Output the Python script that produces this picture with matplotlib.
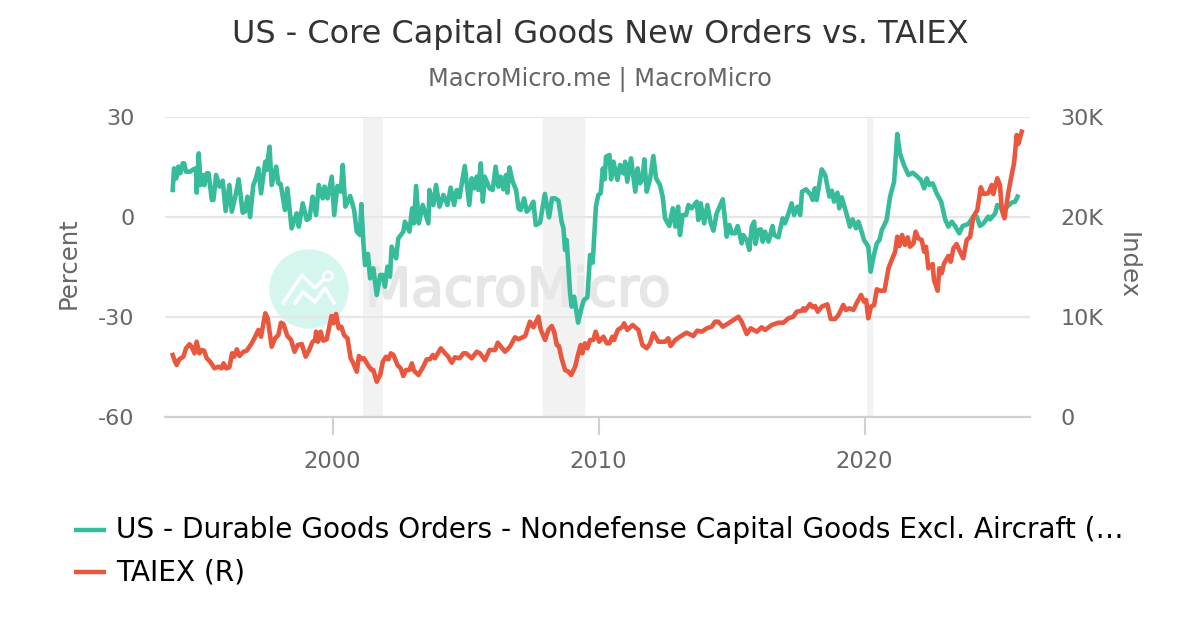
import matplotlib
matplotlib.use("Agg")
import matplotlib.pyplot as plt
import matplotlib.patheffects as pe
from matplotlib.lines import Line2D
from matplotlib.patches import Ellipse

# US durable goods orders, yoy percent (left axis)
orders_year = [
    1993.99, 1994.04, 1994.12, 1994.20, 1994.27, 1994.37, 1994.42, 1994.49, 1994.64, 1994.77, 1994.87, 1994.89,
    1994.97, 1995.04, 1995.12, 1995.18, 1995.27, 1995.34, 1995.46, 1995.52, 1995.62, 1995.75, 1995.87, 1995.98,
    1996.12, 1996.21, 1996.37, 1996.47, 1996.62, 1996.70, 1996.80, 1996.90, 1997.02, 1997.12, 1997.21, 1997.31,
    1997.47, 1997.52, 1997.63, 1997.71, 1997.88, 1997.96, 1998.05, 1998.21, 1998.30, 1998.46, 1998.65, 1998.73,
    1998.88, 1999.03, 1999.13, 1999.25, 1999.38, 1999.48, 1999.63, 1999.70, 1999.81, 1999.97, 2000.06, 2000.18,
    2000.31, 2000.38, 2000.48, 2000.66, 2000.81, 2000.91, 2001.03, 2001.08, 2001.16, 2001.22, 2001.33, 2001.41,
    2001.53, 2001.66, 2001.79, 2001.89, 2001.97, 2002.06, 2002.16, 2002.22, 2002.39, 2002.47, 2002.66, 2002.72,
    2002.89, 2002.99, 2003.06, 2003.14, 2003.24, 2003.39, 2003.60, 2003.64, 2003.79, 2003.89, 2004.02, 2004.17,
    2004.32, 2004.44, 2004.57, 2004.67, 2004.77,
    2004.97, 2005.14, 2005.23, 2005.32, 2005.42, 2005.48, 2005.57, 2005.65, 2005.72, 2005.90, 2006.02, 2006.13,
    2006.23, 2006.32, 2006.42, 2006.52, 2006.57, 2006.65, 2006.77, 2006.90, 2006.99, 2007.07, 2007.20, 2007.30,
    2007.42, 2007.55, 2007.64, 2007.80, 2007.98, 2008.14, 2008.25, 2008.36, 2008.49, 2008.61, 2008.68, 2008.74,
    2008.80, 2008.93, 2008.99, 2009.08, 2009.23, 2009.37, 2009.45, 2009.58, 2009.68, 2009.78, 2009.90, 2009.99,
    2010.08, 2010.16, 2010.23, 2010.28, 2010.41, 2010.47, 2010.56, 2010.71, 2010.81, 2010.93, 2011.00, 2011.08,
    2011.22, 2011.38, 2011.47, 2011.56, 2011.66, 2011.72, 2011.81, 2011.94, 2012.06, 2012.16, 2012.31, 2012.41,
    2012.50, 2012.66, 2012.79, 2012.89, 2012.99, 2013.06, 2013.16, 2013.29, 2013.38, 2013.50, 2013.69, 2013.75,
    2013.84, 2013.97, 2014.09, 2014.22, 2014.32, 2014.44, 2014.67, 2014.82, 2014.92, 2015.01, 2015.13, 2015.23,
    2015.38, 2015.44, 2015.57, 2015.67,
    2015.76, 2015.85, 2015.90, 2016.01, 2016.10, 2016.17, 2016.26, 2016.39, 2016.54, 2016.60, 2016.76, 2016.92,
    2017.01, 2017.14, 2017.26, 2017.35, 2017.48, 2017.58, 2017.65, 2017.80, 2017.98, 2018.05, 2018.13, 2018.20,
    2018.39, 2018.52, 2018.68, 2018.77, 2018.85, 2018.98, 2019.05, 2019.14, 2019.30, 2019.45, 2019.55, 2019.68,
    2019.77, 2019.89, 2019.98, 2020.14, 2020.23, 2020.31, 2020.46, 2020.56, 2020.65, 2020.83, 2020.96, 2021.11,
    2021.23, 2021.33, 2021.48, 2021.65, 2021.81, 2021.96, 2022.12, 2022.24, 2022.34, 2022.44, 2022.56, 2022.71,
    2022.88, 2023.03, 2023.15, 2023.28, 2023.40, 2023.56, 2023.69, 2023.90, 2024.09, 2024.22, 2024.34, 2024.47,
    2024.65, 2024.72, 2024.91, 2024.99, 2025.16, 2025.34, 2025.53, 2025.66, 2025.75,
]
orders_pct = [
    8.1, 14.6, 11.6, 15.1, 13.1, 16.1, 16.1, 13.6, 13.6, 14.3, 14.6, 7.3,
    19.1, 9.6, 12.6, 9.6, 13.1, 13.1, 5.1, 5.1, 12.6, 9.1, 10.9, 1.8,
    9.6, 1.6, 7.1, 11.3, 1.3, 1.6, 6.1, 0.0, 9.6, 11.6, 14.6, 7.1,
    16.6, 14.1, 21.1, 9.6, 15.1, 10.1, 9.9, 2.1, 8.6, -3.4, 1.1, -2.9,
    4.1, -0.9, -0.4, 6.1, 0.6, 9.6, 5.6, 9.1, 5.6, 12.1, 0.6, 9.3,
    7.6, 15.6, 3.1, 6.3, 2.1, -4.4, -5.4, 3.9, -7.9, -14.4, -11.1, -18.4,
    -15.4, -23.4, -17.4, -17.4, -20.9, -14.9, -17.9, -8.9, -12.4, -6.4, -4.4, -1.4,
    -4.4, 2.6, -1.9, 9.3, -1.9, 3.6, -1.9, 8.1, 3.6, 9.6, 3.1, 6.6,
    3.6, 8.8, 3.6, 8.1, 5.9,
    15.3, 3.6, 11.6, 8.6, 12.1, 8.1, 16.1, 4.6, 12.1, 8.6, 8.1, 15.1,
    9.1, 12.1, 8.3, 12.6, 7.3, 14.9, 10.6, 8.1, 2.6, 2.1, 5.6, 1.6,
    2.6, 4.6, -2.4, -1.7, 6.9, -0.1, 5.6, 5.6, 4.9, -1.4, -3.4, -9.9,
    -6.9, -22.9, -26.9, -23.9, -31.7, -26.9, -24.9, -24.1, -11.4, -13.7, 3.1, 6.6,
    7.1, 14.6, 11.3, 18.1, 18.6, 11.3, 16.6, 11.1, 15.6, 13.1, 16.6, 10.6,
    17.6, 7.6, 14.6, 10.1, 11.6, 17.3, 7.6, 11.6, 18.3, 11.6, 9.6, 6.1,
    -0.4, -2.7, 2.6, -2.9, 3.1, -5.4, 0.6, 0.6, 3.6, 2.6, 4.6, -0.9,
    4.1, -1.9, 3.6, -1.9, -4.1, 1.1, 5.3, -5.9, -2.4, -4.9, -4.9, -2.7,
    -7.9, -5.4, -6.9, -9.9,
    -2.9, -1.4, -8.1, -3.9, -3.7, -7.4, -4.4, -7.4, -2.7, -5.4, -6.1, -0.4,
    -1.9, 1.1, 4.1, 0.6, 3.1, 0.6, 7.6, 8.3, 6.6, 5.1, 8.6, 5.1,
    14.3, 12.6, 6.1, 7.9, 4.6, 7.3, 2.6, 5.9, 1.6, -2.9, -0.7, -3.4,
    -1.4, -4.4, -6.9, -8.9, -16.4, -12.9, -7.9, -6.9, -3.9, -0.9, 6.1, 10.6,
    24.9, 19.1, 15.6, 12.6, 13.3, 12.3, 11.1, 8.6, 11.6, 9.6, 10.1, 7.1,
    4.6, -0.7, -2.9, -1.4, -2.7, -4.9, -2.7, -2.1, 0.1, 0.1, -2.7, -1.9,
    0.1, -0.7, 1.1, 3.6, 2.6, 2.9, 4.3, 4.6, 6.1,
]

# TAIEX index level (right axis)
taiex_year = [
    1993.99, 1994.08, 1994.14, 1994.24, 1994.39, 1994.49, 1994.62, 1994.70, 1994.81, 1994.89, 1994.99, 1995.08,
    1995.17, 1995.27, 1995.40, 1995.56, 1995.71, 1995.83, 1995.90, 1996.00, 1996.12, 1996.22, 1996.30, 1996.40,
    1996.50, 1996.65, 1996.77, 1996.96, 1997.09, 1997.21, 1997.31, 1997.47, 1997.56, 1997.71, 1997.84, 1997.96,
    1998.06, 1998.15, 1998.30, 1998.44, 1998.57, 1998.69, 1998.84, 1998.99, 1999.12, 1999.25, 1999.34, 1999.38,
    1999.45, 1999.55, 1999.65, 1999.78, 1999.96, 2000.03, 2000.13, 2000.23, 2000.33, 2000.43, 2000.56, 2000.68,
    2000.78, 2000.91, 2000.99, 2001.10, 2001.18, 2001.35, 2001.47, 2001.53, 2001.66, 2001.79, 2001.89, 2002.01,
    2002.10, 2002.19, 2002.29, 2002.44, 2002.56, 2002.66, 2002.76, 2002.89, 2002.98, 2003.06, 2003.23, 2003.41,
    2003.54, 2003.66, 2003.77, 2003.85, 2004.07, 2004.23, 2004.35, 2004.48, 2004.60, 2004.77,
    2004.92, 2005.02, 2005.23, 2005.42, 2005.54, 2005.73, 2005.90, 2006.11, 2006.21, 2006.48, 2006.67, 2006.86,
    2006.99, 2007.24, 2007.42, 2007.55, 2007.74, 2007.83, 2007.99, 2008.11, 2008.24, 2008.33, 2008.43, 2008.51,
    2008.61, 2008.74, 2008.87, 2008.97, 2009.12, 2009.24, 2009.33, 2009.39, 2009.49, 2009.58, 2009.68, 2009.80,
    2009.89, 2010.02, 2010.18, 2010.31, 2010.41, 2010.52, 2010.58, 2010.72, 2010.90, 2010.96, 2011.08, 2011.28,
    2011.50, 2011.65, 2011.81, 2011.94, 2012.06, 2012.25, 2012.50, 2012.62, 2012.71, 2012.88, 2013.06, 2013.31,
    2013.56, 2013.71, 2013.88, 2014.07, 2014.25, 2014.38, 2014.50, 2014.67, 2014.88, 2015.07, 2015.26, 2015.38,
    2015.57, 2015.72,
    2015.95, 2016.13, 2016.26, 2016.51, 2016.76, 2016.95, 2017.14, 2017.32, 2017.45, 2017.64, 2017.70, 2017.76,
    2017.95, 2018.05, 2018.14, 2018.24, 2018.39, 2018.60, 2018.73, 2018.89, 2019.02, 2019.20, 2019.30, 2019.43,
    2019.58, 2019.71, 2019.87, 2019.98, 2020.06, 2020.14, 2020.24, 2020.36, 2020.46, 2020.58, 2020.75, 2020.90,
    2021.02, 2021.15, 2021.23, 2021.31, 2021.41, 2021.52, 2021.62, 2021.71, 2021.84, 2021.92, 2022.02, 2022.15,
    2022.24, 2022.31, 2022.40, 2022.56, 2022.61, 2022.75, 2022.81, 2022.90, 2022.99, 2023.15, 2023.24, 2023.34,
    2023.46, 2023.59, 2023.71, 2023.84, 2023.97, 2024.09, 2024.24, 2024.37, 2024.47, 2024.65, 2024.78, 2024.84,
    2024.99, 2025.09, 2025.16, 2025.26, 2025.41, 2025.53, 2025.62, 2025.72, 2025.78, 2025.91,
]
taiex_level = [
    6200, 5530, 5200, 5770, 6030, 6870, 7270, 7030, 6370, 7530, 6370, 6700,
    6630, 5870, 5530, 4870, 5030, 4870, 5370, 4870, 4970, 6370, 6030, 6770,
    6100, 6530, 6630, 7370, 8030, 8700, 8030, 10370, 9870, 7030, 7870, 8200,
    9430, 9300, 8100, 7700, 6530, 7200, 7300, 6030, 6700, 7530, 7630, 8530,
    7530, 8530, 7630, 7770, 10100, 9370, 10300, 8870, 9030, 8200, 7870, 5870,
    5370, 4530, 6100, 5770, 5870, 5100, 4700, 4700, 3530, 4200, 5530, 6030,
    5770, 6370, 6200, 5200, 4870, 4100, 4700, 4700, 5370, 4630, 4200, 5030,
    5770, 5770, 6200, 5870, 6870, 6370, 6030, 5430, 5970, 5870,
    6370, 6370, 5870, 6530, 6370, 5700, 6700, 6700, 7430, 6530, 7030, 7970,
    7770, 8100, 9530, 8970, 10030, 8700, 7700, 8700, 9100, 8530, 7200, 7100,
    5870, 4700, 4530, 4200, 5030, 6370, 7200, 6370, 7370, 6870, 7700, 7700,
    8530, 7530, 8030, 7370, 7370, 8030, 7700, 8700, 9030, 9370, 8700, 9200,
    8700, 7200, 6870, 7370, 8370, 7530, 7530, 7870, 7100, 7700, 8030, 8430,
    8100, 8630, 8530, 8870, 9030, 9530, 9530, 9030, 9370, 9700, 10030, 9530,
    8300, 8870,
    8530, 8970, 8700, 9200, 9430, 9430, 9870, 10030, 10530, 10630, 10870, 10630,
    11300, 10970, 11100, 10530, 11030, 11270, 9800, 9800, 10200, 11200, 10700, 10870,
    10700, 11430, 12200, 11530, 11700, 9870, 11030, 11200, 12770, 12630, 12630, 14870,
    15700, 16530, 18030, 17100, 18200, 17200, 17970, 17030, 17370, 18530, 17870, 17700,
    16530, 17030, 14870, 15300, 13700, 12630, 14870, 14370, 15370, 16100, 15530, 16870,
    17300, 16530, 15870, 17700, 18030, 20030, 20700, 22970, 22300, 22370, 23200, 22300,
    23870, 23200, 20700, 19870, 22530, 24200, 25370, 28200, 27300, 28530,
]

recession_start = [2001.15, 2007.92, 2020.08]
recession_end = [2001.90, 2009.50, 2020.33]

left_ticks = [-60, -30, 0, 30]
right_ticks = [0, 10000, 20000, 30000]
right_labels = ["0", "10K", "20K", "30K"]
year_ticks = [2000, 2010, 2020]

TEAL = "#36bc9b"
RED = "#e9573f"
plt.rcParams["font.family"] = "DejaVu Sans"

W, H = 1200, 630
fig = plt.figure(figsize=(12, 6.3), dpi=100)
ax = fig.add_axes([165 / W, 1 - 417 / H, 865 / W, 300 / H])
ax.patch.set_visible(False)


def px(x, y):
    return x / W, 1 - y / H


def fig_line(xs, ys, **kw):
    pts = [px(x, y) for x, y in zip(xs, ys)]
    fig.add_artist(Line2D([p[0] for p in pts], [p[1] for p in pts], transform=fig.transFigure, **kw))


# watermark sits behind the axes
fig.add_artist(Ellipse(px(309, 289), 78 / W, 78 / H, transform=fig.transFigure, color="#d5f6ef", zorder=-3))
fig_line([283, 302, 315, 325], [303, 275, 288, 278], color="white", lw=2.5, zorder=-2)
fig_line([295, 303, 315, 325, 334], [303, 292, 302, 288, 303], color="white", lw=2.5, zorder=-2)
fig.add_artist(Ellipse(px(328, 276), 9 / W, 9 / H, transform=fig.transFigure, fc="#d5f6ef", ec="white", lw=2, zorder=-2))
fig.text(*px(365, 291), "MacroMicro", fontsize=38.5, color="#e6e6e6", ha="left", va="center", zorder=-3,
         path_effects=[pe.withStroke(linewidth=1.5, foreground="#e6e6e6")])

for s, e in zip(recession_start, recession_end):
    ax.axvspan(s, e, color="#e8e8e8", alpha=0.55, lw=0, zorder=1)

ax.plot(orders_year, orders_pct, color=TEAL, lw=3.3, solid_joinstyle="round", zorder=3)
ax.set_xlim(1993.70, 2026.22)
ax.set_ylim(-60, 30)
ax.set_yticks(left_ticks)
ax.set_yticklabels(["-60", "-30", "0", "30"])
ax.set_xticks(year_ticks)
ax.set_xticklabels([str(y) for y in year_ticks])
ax.grid(axis="y", color="#e6e6e6", lw=1.6, zorder=0)
ax.set_axisbelow(True)
for side in ["top", "left", "right"]:
    ax.spines[side].set_visible(False)
ax.spines["bottom"].set_color("#d0d0d0")
ax.spines["bottom"].set_linewidth(1.6)
ax.tick_params(axis="y", length=0, pad=22, labelsize=16, labelcolor="#666666")
ax.tick_params(axis="x", length=13, width=1.5, color="#d0d0d0", pad=11, labelsize=16.3, labelcolor="#666666")
ax.set_ylabel("Percent", fontsize=17.5, color="#666666")
ax.yaxis.set_label_coords((81 - 165) / 865, 0.5 - (263 - 267) / 300)

ax2 = ax.twinx()
ax2.patch.set_visible(False)
ax2.plot(taiex_year, taiex_level, color=RED, lw=3.3, solid_joinstyle="round", zorder=3)
ax2.set_ylim(0, 30000)
ax2.set_yticks(right_ticks)
ax2.set_yticklabels(right_labels)
for side in ["top", "left", "right", "bottom"]:
    ax2.spines[side].set_visible(False)
ax2.tick_params(axis="y", length=0, pad=22, labelsize=16, labelcolor="#666666")
ax2.set_ylabel("Index", fontsize=17.5, color="#666666", rotation=270, va="center")
ax2.yaxis.set_label_coords((1128 - 165) / 865, 0.5 - (266 - 267) / 300)

fig.text(*px(600, 35), "US - Core Capital Goods New Orders vs. TAIEX", fontsize=23, color="#333333",
         ha="center", va="center")
fig.text(*px(600, 79.5), "MacroMicro.me | MacroMicro", fontsize=17.3, color="#666666", ha="center", va="center")

# legend drawn by hand so it sits where the reference has it
fig_line([74, 106], [530, 530], color=TEAL, lw=3.2, solid_capstyle="butt")
fig.text(*px(116, 530), "US - Durable Goods Orders - Nondefense Capital Goods Excl. Aircraft (…",
         fontsize=20.2, color="black", ha="left", va="center")
fig_line([74, 106], [572, 572], color=RED, lw=3.2, solid_capstyle="butt")
fig.text(*px(116, 572), "TAIEX (R)", fontsize=20.2, color="black", ha="left", va="center")

fig.savefig("out.png", dpi=100)
